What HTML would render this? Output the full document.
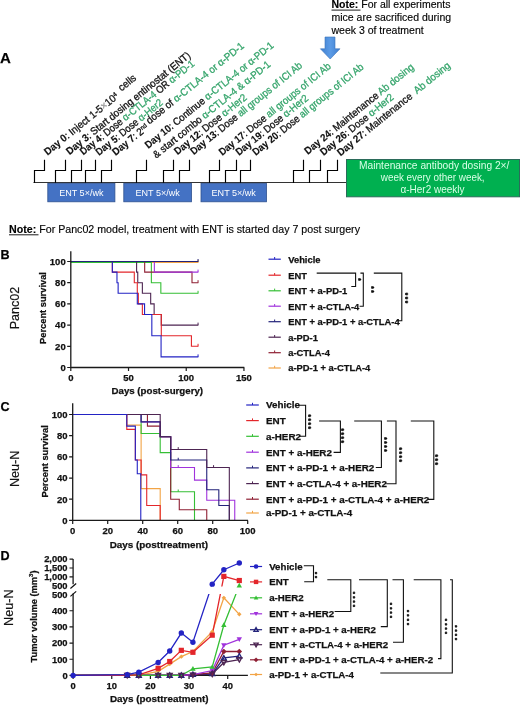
<!DOCTYPE html>
<html><head><meta charset="utf-8"><style>
html,body{margin:0;padding:0;background:#fff;}
svg{display:block;}
text{font-family:"Liberation Sans",Arial,sans-serif;}
text[font-weight="bold"],g[font-weight="bold"] text{stroke:#111;stroke-width:0.25px;}
.rt tspan[font-weight="bold"]{stroke-width:0.15px;}
</style></head><body>
<svg width="520" height="706" viewBox="0 0 520 706">
<rect width="520" height="706" fill="#fff"/>
<text x="0" y="63" font-size="15" font-weight="bold">A</text>
<g font-size="10.5" stroke="#111" stroke-width="0.15">
<text x="331.5" y="8.0"><tspan font-weight="bold">Note:</tspan> For all experiments</text>
<text x="331.5" y="20.8">mice are sacrificed during</text>
<text x="331.5" y="33.6">week 3 of treatment</text>
</g>
<line x1="331.5" y1="10.1" x2="360.5" y2="10.1" stroke="#000" stroke-width="0.9"/>
<defs><linearGradient id="ag" x1="0" x2="1" y1="0" y2="0"><stop offset="0" stop-color="#3f7fcf"/><stop offset="0.5" stop-color="#5b9be6"/><stop offset="1" stop-color="#3f7fcf"/></linearGradient></defs>
<path d="M325,37 H335 V48.8 H340 L330.2,59 L320.4,48.8 H325 Z" fill="url(#ag)" stroke="#3a72b8" stroke-width="0.6"/>
<g class="rt" fill="#111" stroke="#111" stroke-width="0.3">
<text transform="translate(47.4,155.7) rotate(-39)" font-size="10.3" textLength="117.8" lengthAdjust="spacingAndGlyphs" xml:space="preserve"><tspan font-weight="bold">Day 0</tspan>: Inject 1-5<tspan fill="#999" stroke="#999">×</tspan>10<tspan font-size="6.18" dy="-3.2">4</tspan><tspan dy="3.2"></tspan>  cells</text>
<text transform="translate(69.5,155.2) rotate(-39)" font-size="10.3" textLength="156.6" lengthAdjust="spacingAndGlyphs" xml:space="preserve"><tspan font-weight="bold">Day 3</tspan>: Start dosing entinostat (ENT)</text>
<text transform="translate(83.3,155.6) rotate(-39)" font-size="10.3" textLength="144.0" lengthAdjust="spacingAndGlyphs" xml:space="preserve"><tspan font-weight="bold">Day 4</tspan>: Dose <tspan fill="#36a56c" stroke="#36a56c">α-CTLA-4</tspan> OR <tspan fill="#36a56c" stroke="#36a56c">α-PD-1</tspan></text>
<text transform="translate(99.1,156.0) rotate(-39)" font-size="10.3" textLength="83.0" lengthAdjust="spacingAndGlyphs" xml:space="preserve"><tspan font-weight="bold">Day 5</tspan>: Dose <tspan fill="#36a56c" stroke="#36a56c">α-Her2</tspan></text>
<text transform="translate(115.5,156.0) rotate(-39)" font-size="10.3" textLength="169.0" lengthAdjust="spacingAndGlyphs" xml:space="preserve"><tspan font-weight="bold">Day 7</tspan>: 2<tspan font-size="6.18" dy="-3.2">nd</tspan><tspan dy="3.2"></tspan> dose of <tspan fill="#36a56c" stroke="#36a56c">α-CTLA-4 or α-PD-1</tspan></text>
<text transform="translate(148.2,148.9) rotate(-39)" font-size="10.3" textLength="162.4" lengthAdjust="spacingAndGlyphs" xml:space="preserve"><tspan font-weight="bold">Day 10</tspan>: Continue <tspan fill="#36a56c" stroke="#36a56c">α-CTLA-4 or α-PD-1</tspan></text>
<text transform="translate(156.2,158.7) rotate(-39)" font-size="10.3" textLength="148.0" lengthAdjust="spacingAndGlyphs" xml:space="preserve">&amp; start combo <tspan fill="#36a56c" stroke="#36a56c">α-CTLA-4 &amp; α-PD-1</tspan></text>
<text transform="translate(177.6,155.2) rotate(-39)" font-size="10.3" textLength="90.0" lengthAdjust="spacingAndGlyphs" xml:space="preserve"><tspan font-weight="bold">Day 12</tspan>: Dose <tspan fill="#36a56c" stroke="#36a56c">α-Her2</tspan></text>
<text transform="translate(193.7,155.2) rotate(-39)" font-size="10.3" textLength="140.6" lengthAdjust="spacingAndGlyphs" xml:space="preserve"><tspan font-weight="bold">Day 13</tspan>: Dose <tspan fill="#36a56c" stroke="#36a56c">all groups of ICI Ab</tspan></text>
<text transform="translate(222.2,156.1) rotate(-39)" font-size="10.3" textLength="140.8" lengthAdjust="spacingAndGlyphs" xml:space="preserve"><tspan font-weight="bold">Day 17</tspan>: Dose <tspan fill="#36a56c" stroke="#36a56c">all groups of ICI Ab</tspan></text>
<text transform="translate(239.0,156.1) rotate(-39)" font-size="10.3" textLength="90.1" lengthAdjust="spacingAndGlyphs" xml:space="preserve"><tspan font-weight="bold">Day 19</tspan>: Dose <tspan fill="#36a56c" stroke="#36a56c">α-Her2</tspan></text>
<text transform="translate(255.8,156.1) rotate(-39)" font-size="10.3" textLength="139.8" lengthAdjust="spacingAndGlyphs" xml:space="preserve"><tspan font-weight="bold">Day 20</tspan>: Dose <tspan fill="#36a56c" stroke="#36a56c">all groups of ICI Ab</tspan></text>
<text transform="translate(307.7,154.9) rotate(-39)" font-size="10.3" textLength="137.6" lengthAdjust="spacingAndGlyphs" xml:space="preserve"><tspan font-weight="bold">Day 24</tspan>: Maintenance <tspan fill="#36a56c" stroke="#36a56c">Ab dosing</tspan></text>
<text transform="translate(323.5,155.9) rotate(-39)" font-size="10.3" textLength="91.3" lengthAdjust="spacingAndGlyphs" xml:space="preserve"><tspan font-weight="bold">Day 26</tspan>: Dose <tspan fill="#36a56c" stroke="#36a56c">α-Her2</tspan></text>
<text transform="translate(340.4,156.4) rotate(-39)" font-size="10.3" textLength="142.5" lengthAdjust="spacingAndGlyphs" xml:space="preserve"><tspan font-weight="bold">Day 27</tspan>: Maintenance  <tspan fill="#36a56c" stroke="#36a56c">Ab dosing</tspan></text>
</g>
<line x1="33.5" y1="182.5" x2="347" y2="182.5" stroke="#333" stroke-width="1.1"/>
<path d="M34.5,183 V170.5 H44.5 V159.8 M55.5,183 V170.5 H65.5 V159.8 M71.5,183 V170.5 H81.5 V159.8 M85.5,183 V170.5 H95.5 V159.8 M101.5,183 V170.5 H111.5 V159.8 M136.5,183 V170.5 H146.5 V159.8 M163.5,183 V170.5 H173.5 V159.8 M179.5,183 V170.5 H189.5 V159.8 M209.5,183 V170.5 H219.5 V159.8 M225.5,183 V170.5 H236.5 V159.8 M240.5,183 V170.5 H250.5 V159.8 M293.5,183 V170.5 H303.5 V159.8 M309.5,183 V170.5 H320.5 V159.8 M327.5,183 V170.5 H337.5 V159.8 " fill="none" stroke="#000" stroke-width="1.15"/>
<rect x="47.8" y="183.3" width="67.10000000000001" height="18.5" fill="#4472c4" stroke="#2f528f" stroke-width="0.8"/>
<text x="81.35" y="195.8" font-size="9.3" textLength="44.3" lengthAdjust="spacingAndGlyphs" fill="#fff" text-anchor="middle">ENT 5×/wk</text>
<rect x="123.8" y="183.3" width="67.7" height="18.5" fill="#4472c4" stroke="#2f528f" stroke-width="0.8"/>
<text x="157.65" y="195.8" font-size="9.3" textLength="44.3" lengthAdjust="spacingAndGlyphs" fill="#fff" text-anchor="middle">ENT 5×/wk</text>
<rect x="201" y="183.3" width="65.5" height="18.5" fill="#4472c4" stroke="#2f528f" stroke-width="0.8"/>
<text x="233.75" y="195.8" font-size="9.3" textLength="44.3" lengthAdjust="spacingAndGlyphs" fill="#fff" text-anchor="middle">ENT 5×/wk</text>
<rect x="346.5" y="159.5" width="173" height="37.3" fill="#00b050" stroke="#2b6b5a" stroke-width="1"/>
<g font-size="10.3" fill="#d8ffe6" text-anchor="middle">
<text x="434.2" y="168.9" textLength="150.5" lengthAdjust="spacingAndGlyphs">Maintenance antibody dosing 2×/</text>
<text x="432.7" y="181.1" textLength="103.8" lengthAdjust="spacingAndGlyphs">week every other week,</text>
<text x="432.5" y="193.4" textLength="64.1" lengthAdjust="spacingAndGlyphs">α-Her2 weekly</text>
</g>
<text x="9" y="232.5" font-size="10.6" stroke="#111" stroke-width="0.15" textLength="351" lengthAdjust="spacingAndGlyphs"><tspan font-weight="bold">Note:</tspan> For Panc02 model, treatment with ENT is started day 7 post surgery</text>
<line x1="9" y1="234.8" x2="38.5" y2="234.8" stroke="#000" stroke-width="0.9"/>
<text x="0.5" y="258.6" font-size="12.6" font-weight="bold">B</text>
<text transform="translate(19,308) rotate(-90)" font-size="12.6" text-anchor="middle" fill="#111" stroke="#222" stroke-width="0.2">Panc02</text>
<text transform="translate(45.6,308) rotate(-90)" font-size="9.3" font-weight="bold" text-anchor="middle" fill="#111">Percent survival</text>
<path d="M70.80,262.40 H198.35" fill="none" stroke="#f2a446" stroke-width="1.1"/>
<line x1="198.05015" y1="262.4" x2="198.05015" y2="259.9" stroke="#f2a446" stroke-width="1"/>
<path d="M70.80,262.40 H151.37 V282.70 H160.84 V293.30 H198.35" fill="none" stroke="#35bf35" stroke-width="1.1"/>
<line x1="198.05015" y1="293.3" x2="198.05015" y2="290.8" stroke="#35bf35" stroke-width="1"/>
<path d="M70.80,261.50 H144.68 V272.10 H192.00 V282.70 H198.35" fill="none" stroke="#8f1f33" stroke-width="1.1"/>
<line x1="198.05015" y1="282.7" x2="198.05015" y2="280.2" stroke="#8f1f33" stroke-width="1"/>
<path d="M70.80,261.50 H154.37 V272.10 H198.35" fill="none" stroke="#a032dc" stroke-width="1.1"/>
<line x1="198.05015" y1="272.1" x2="198.05015" y2="269.6" stroke="#a032dc" stroke-width="1"/>
<path d="M70.80,261.50 H136.60 V272.10 H137.75 V282.70 H142.37 V293.30 H150.68 V303.90 H154.14 V314.50 H161.30 V325.10 H198.35" fill="none" stroke="#4d2552" stroke-width="1.1"/>
<line x1="198.05015" y1="325.1" x2="198.05015" y2="322.6" stroke="#4d2552" stroke-width="1"/>
<path d="M70.80,261.50 H112.35 V272.10 H134.29 V282.70 H137.29 V293.30 H138.33 V303.90 H142.37 V314.50 H161.30 V335.70 H191.42 V346.30 H198.35" fill="none" stroke="#e3262b" stroke-width="1.1"/>
<line x1="198.05015" y1="346.3" x2="198.05015" y2="343.8" stroke="#e3262b" stroke-width="1"/>
<path d="M70.80,261.50 H112.35 V272.10 H116.97 V282.70 H118.13 V293.30 H137.29 V303.90 H144.56 V314.50 H151.83 V335.70 H161.07 V356.90 H198.35" fill="none" stroke="#2323c4" stroke-width="1.1"/>
<line x1="198.05015" y1="356.9" x2="198.05015" y2="354.4" stroke="#2323c4" stroke-width="1"/>
<path d="M70.80,261.50 H198.35" fill="none" stroke="#23237a" stroke-width="1.1"/>
<line x1="198.05015" y1="261.5" x2="198.05015" y2="259.0" stroke="#23237a" stroke-width="1"/>
<path d="M70.8,251.2 V367.5 H244.3" fill="none" stroke="#1a1a1a" stroke-width="1.3"/>
<path d="M67.2,367.5 H70.8 M67.2,346.3 H70.8 M67.2,325.1 H70.8 M67.2,303.9 H70.8 M67.2,282.7 H70.8 M67.2,261.5 H70.8 M70.8,367.5 V371.1 M128.515,367.5 V371.1 M186.23000000000002,367.5 V371.1 M243.945,367.5 V371.1 " fill="none" stroke="#1a1a1a" stroke-width="1.2"/>
<g font-size="9.5" font-weight="bold" fill="#111">
<text x="65.7" y="370.8" text-anchor="end">0</text>
<text x="65.7" y="349.6" text-anchor="end">20</text>
<text x="65.7" y="328.40000000000003" text-anchor="end">40</text>
<text x="65.7" y="307.2" text-anchor="end">60</text>
<text x="65.7" y="286.0" text-anchor="end">80</text>
<text x="65.7" y="264.8" text-anchor="end">100</text>
<text x="70.8" y="380.6" text-anchor="middle">0</text>
<text x="128.515" y="380.6" text-anchor="middle">50</text>
<text x="186.23000000000002" y="380.6" text-anchor="middle">100</text>
<text x="243.945" y="380.6" text-anchor="middle">150</text>
</g>
<text x="111.5" y="393.8" font-size="9.7" font-weight="bold" fill="#111">Days (post-surgery)</text>
<line x1="268.5" y1="259.2" x2="280.8" y2="259.2" stroke="#2323c4" stroke-width="1.2"/>
<line x1="274.65" y1="259.2" x2="274.65" y2="257.0" stroke="#2323c4" stroke-width="1"/>
<text x="288.2" y="262.5" font-size="9.4" font-weight="bold" fill="#111">Vehicle</text>
<line x1="268.5" y1="275.2" x2="280.8" y2="275.2" stroke="#e3262b" stroke-width="1.2"/>
<line x1="274.65" y1="275.2" x2="274.65" y2="273.0" stroke="#e3262b" stroke-width="1"/>
<text x="288.2" y="278.5" font-size="9.4" font-weight="bold" fill="#111">ENT</text>
<line x1="268.5" y1="290.8" x2="280.8" y2="290.8" stroke="#35bf35" stroke-width="1.2"/>
<line x1="274.65" y1="290.8" x2="274.65" y2="288.6" stroke="#35bf35" stroke-width="1"/>
<text x="288.2" y="294.1" font-size="9.4" font-weight="bold" fill="#111">ENT + a-PD-1</text>
<line x1="268.5" y1="306.2" x2="280.8" y2="306.2" stroke="#a032dc" stroke-width="1.2"/>
<line x1="274.65" y1="306.2" x2="274.65" y2="304.0" stroke="#a032dc" stroke-width="1"/>
<text x="288.2" y="309.5" font-size="9.4" font-weight="bold" fill="#111">ENT + a-CTLA-4</text>
<line x1="268.5" y1="321.7" x2="280.8" y2="321.7" stroke="#23237a" stroke-width="1.2"/>
<line x1="274.65" y1="321.7" x2="274.65" y2="319.5" stroke="#23237a" stroke-width="1"/>
<text x="288.2" y="325.0" font-size="9.4" font-weight="bold" fill="#111">ENT + a-PD-1 + a-CTLA-4</text>
<line x1="268.5" y1="337.2" x2="280.8" y2="337.2" stroke="#4d2552" stroke-width="1.2"/>
<line x1="274.65" y1="337.2" x2="274.65" y2="335.0" stroke="#4d2552" stroke-width="1"/>
<text x="288.2" y="340.5" font-size="9.4" font-weight="bold" fill="#111">a-PD-1</text>
<line x1="268.5" y1="352.7" x2="280.8" y2="352.7" stroke="#8f1f33" stroke-width="1.2"/>
<line x1="274.65" y1="352.7" x2="274.65" y2="350.5" stroke="#8f1f33" stroke-width="1"/>
<text x="288.2" y="356.0" font-size="9.4" font-weight="bold" fill="#111">a-CTLA-4</text>
<line x1="268.5" y1="368.0" x2="280.8" y2="368.0" stroke="#f2a446" stroke-width="1.2"/>
<line x1="274.65" y1="368.0" x2="274.65" y2="365.8" stroke="#f2a446" stroke-width="1"/>
<text x="288.2" y="371.3" font-size="9.4" font-weight="bold" fill="#111">a-PD-1 + a-CTLA-4</text>
<path d="M316.7,273.1 H355.6 V286.5 H351.3" fill="none" stroke="#111" stroke-width="1.1"/>
<text transform="translate(355.75,278.26) rotate(90)" font-size="6.4" font-weight="bold" letter-spacing="1.51" fill="#111" style="stroke:#111;stroke-width:0.45px">*</text>
<path d="M360.4,273.1 H363.3 V306.2 H359.6" fill="none" stroke="#111" stroke-width="1.1"/>
<text transform="translate(368.55,286.36) rotate(90)" font-size="6.4" font-weight="bold" letter-spacing="1.51" fill="#111" style="stroke:#111;stroke-width:0.45px">**</text>
<path d="M373.8,273.1 H401.8 V320.8 H396.5" fill="none" stroke="#111" stroke-width="1.1"/>
<text transform="translate(403.45,292.76) rotate(90)" font-size="6.4" font-weight="bold" letter-spacing="1.51" fill="#111" style="stroke:#111;stroke-width:0.45px">***</text>
<text x="0.5" y="411" font-size="12.6" font-weight="bold">C</text>
<text transform="translate(19.1,468.8) rotate(-90)" font-size="12.6" text-anchor="middle" fill="#111" stroke="#222" stroke-width="0.2">Neu-N</text>
<text transform="translate(47.8,461.4) rotate(-90)" font-size="9.4" font-weight="bold" text-anchor="middle" fill="#111">Percent survival</text>
<path d="M72.70,414.50 H126.78 V425.09 H141.12 V488.63 H160.20 V520.40 " fill="none" stroke="#f2a446" stroke-width="1.1"/>
<path d="M72.70,414.50 H141.12 V433.56 H160.20 V452.62 H170.70 V491.81 H194.50 V520.40 " fill="none" stroke="#35bf35" stroke-width="1.1"/>
<path d="M72.70,414.50 H147.43 V426.15 H160.20 V436.74 H170.70 V499.22 H179.28 V509.81 H206.75 V520.40 " fill="none" stroke="#8f1f33" stroke-width="1.1"/>
<path d="M72.70,414.50 H141.12 V421.91 H160.20 V436.74 H170.70 V467.45 H194.50 V480.16 H206.75 V500.28 H234.75 V520.40 " fill="none" stroke="#a032dc" stroke-width="1.1"/>
<path d="M72.70,414.50 H141.12 V421.91 H160.20 V436.74 H170.70 V460.04 H206.75 V489.69 H218.82 V505.57 H229.32 V520.40 " fill="none" stroke="#23237a" stroke-width="1.1"/>
<path d="M72.70,414.50 H160.20 V436.74 H170.70 V449.45 H206.75 V467.45 H229.32 V520.40 " fill="none" stroke="#4d2552" stroke-width="1.1"/>
<path d="M72.70,414.50 H126.78 V429.33 H135.35 V460.04 H141.12 V474.86 H146.72 V505.57 H160.20 V520.40 " fill="none" stroke="#e3262b" stroke-width="1.1"/>
<path d="M72.70,414.50 H126.78 V426.15 H135.35 V460.04 H137.28 V473.80 H140.78 V520.40 " fill="none" stroke="#2323c4" stroke-width="1.1"/>
<line x1="178.225" y1="449.447" x2="178.225" y2="447.147" stroke="#4d2552" stroke-width="1"/>
<line x1="178.225" y1="460.037" x2="178.225" y2="457.73699999999997" stroke="#23237a" stroke-width="1"/>
<line x1="178.225" y1="467.45" x2="178.225" y2="465.15" stroke="#a032dc" stroke-width="1"/>
<line x1="178.225" y1="491.80699999999996" x2="178.225" y2="489.50699999999995" stroke="#35bf35" stroke-width="1"/>
<line x1="213.575" y1="467.45" x2="213.575" y2="465.15" stroke="#4d2552" stroke-width="1"/>
<path d="M72.7,403.2 V520.4 H248" fill="none" stroke="#1a1a1a" stroke-width="1.3"/>
<path d="M69.10000000000001,520.4 H72.7 M69.10000000000001,499.21999999999997 H72.7 M69.10000000000001,478.03999999999996 H72.7 M69.10000000000001,456.86 H72.7 M69.10000000000001,435.68 H72.7 M69.10000000000001,414.5 H72.7 M72.7,520.4 V524.0 M107.7,520.4 V524.0 M142.7,520.4 V524.0 M177.7,520.4 V524.0 M212.7,520.4 V524.0 M247.7,520.4 V524.0 " fill="none" stroke="#1a1a1a" stroke-width="1.2"/>
<g font-size="9.5" font-weight="bold" fill="#111">
<text x="67.60000000000001" y="523.6999999999999" text-anchor="end">0</text>
<text x="67.60000000000001" y="502.52" text-anchor="end">20</text>
<text x="67.60000000000001" y="481.34" text-anchor="end">40</text>
<text x="67.60000000000001" y="460.16" text-anchor="end">60</text>
<text x="67.60000000000001" y="438.98" text-anchor="end">80</text>
<text x="67.60000000000001" y="417.8" text-anchor="end">100</text>
<text x="72.7" y="533.5" text-anchor="middle">0</text>
<text x="107.7" y="533.5" text-anchor="middle">20</text>
<text x="142.7" y="533.5" text-anchor="middle">40</text>
<text x="177.7" y="533.5" text-anchor="middle">60</text>
<text x="212.7" y="533.5" text-anchor="middle">80</text>
<text x="247.7" y="533.5" text-anchor="middle">100</text>
</g>
<text x="109.7" y="548.1" font-size="9.85" font-weight="bold" fill="#111">Days (posttreatment)</text>
<line x1="246.2" y1="405" x2="258.8" y2="405" stroke="#2323c4" stroke-width="1.2"/>
<line x1="252.5" y1="405" x2="252.5" y2="402.8" stroke="#2323c4" stroke-width="1"/>
<text x="266" y="408.3" font-size="9.85" font-weight="bold" fill="#111">Vehicle</text>
<line x1="246.2" y1="420.6" x2="258.8" y2="420.6" stroke="#e3262b" stroke-width="1.2"/>
<line x1="252.5" y1="420.6" x2="252.5" y2="418.40000000000003" stroke="#e3262b" stroke-width="1"/>
<text x="266" y="423.90000000000003" font-size="9.85" font-weight="bold" fill="#111">ENT</text>
<line x1="246.2" y1="436.3" x2="258.8" y2="436.3" stroke="#35bf35" stroke-width="1.2"/>
<line x1="252.5" y1="436.3" x2="252.5" y2="434.1" stroke="#35bf35" stroke-width="1"/>
<text x="266" y="439.6" font-size="9.85" font-weight="bold" fill="#111">a-HER2</text>
<line x1="246.2" y1="452.2" x2="258.8" y2="452.2" stroke="#a032dc" stroke-width="1.2"/>
<line x1="252.5" y1="452.2" x2="252.5" y2="450.0" stroke="#a032dc" stroke-width="1"/>
<text x="266" y="455.5" font-size="9.85" font-weight="bold" fill="#111">ENT + a-HER2</text>
<line x1="246.2" y1="467.9" x2="258.8" y2="467.9" stroke="#23237a" stroke-width="1.2"/>
<line x1="252.5" y1="467.9" x2="252.5" y2="465.7" stroke="#23237a" stroke-width="1"/>
<text x="266" y="471.2" font-size="9.85" font-weight="bold" fill="#111">ENT + a-PD-1 + a-HER2</text>
<line x1="246.2" y1="483.6" x2="258.8" y2="483.6" stroke="#4d2552" stroke-width="1.2"/>
<line x1="252.5" y1="483.6" x2="252.5" y2="481.40000000000003" stroke="#4d2552" stroke-width="1"/>
<text x="266" y="486.90000000000003" font-size="9.85" font-weight="bold" fill="#111">ENT + a-CTLA-4 + a-HER2</text>
<line x1="246.2" y1="499.2" x2="258.8" y2="499.2" stroke="#8f1f33" stroke-width="1.2"/>
<line x1="252.5" y1="499.2" x2="252.5" y2="497.0" stroke="#8f1f33" stroke-width="1"/>
<text x="266" y="502.5" font-size="9.85" font-weight="bold" fill="#111">ENT + a-PD-1 + a-CTLA-4 + a-HER2</text>
<line x1="246.2" y1="513.0" x2="258.8" y2="513.0" stroke="#f2a446" stroke-width="1.2"/>
<line x1="252.5" y1="513.0" x2="252.5" y2="510.8" stroke="#f2a446" stroke-width="1"/>
<text x="266" y="516.3" font-size="9.85" font-weight="bold" fill="#111">a-PD-1 + a-CTLA-4</text>
<path d="M298.7,405.3 H305.6 V436.2 H300" fill="none" stroke="#111" stroke-width="1.1"/>
<text transform="translate(306.15,414.46) rotate(90)" font-size="6.4" font-weight="bold" letter-spacing="1.51" fill="#111" style="stroke:#111;stroke-width:0.45px">****</text>
<path d="M319.1,421.0 H340.4 V452.4 H333.6" fill="none" stroke="#111" stroke-width="1.1"/>
<text transform="translate(339.45,428.46) rotate(90)" font-size="6.4" font-weight="bold" letter-spacing="1.51" fill="#111" style="stroke:#111;stroke-width:0.45px">****</text>
<path d="M354.2,421.0 H381.4 V467.5 H375.8" fill="none" stroke="#111" stroke-width="1.1"/>
<text transform="translate(382.15,437.36) rotate(90)" font-size="6.4" font-weight="bold" letter-spacing="1.51" fill="#111" style="stroke:#111;stroke-width:0.45px">****</text>
<path d="M386.9,421.0 H396.0 V483.7 H386.3" fill="none" stroke="#111" stroke-width="1.1"/>
<text transform="translate(396.75,447.56) rotate(90)" font-size="6.4" font-weight="bold" letter-spacing="1.51" fill="#111" style="stroke:#111;stroke-width:0.45px">****</text>
<path d="M410.8,421.0 H433.8 V499.4 H428" fill="none" stroke="#111" stroke-width="1.1"/>
<text transform="translate(433.25,454.46) rotate(90)" font-size="6.4" font-weight="bold" letter-spacing="1.51" fill="#111" style="stroke:#111;stroke-width:0.45px">***</text>
<text x="0.5" y="559.8" font-size="12.6" font-weight="bold">D</text>
<text transform="translate(12.8,607.7) rotate(-90)" font-size="12.6" text-anchor="middle" fill="#111" stroke="#222" stroke-width="0.2">Neu-N</text>
<text transform="translate(36.8,616.5) rotate(-90)" font-size="9.3" font-weight="bold" text-anchor="middle" fill="#111">Tumor volume (mm<tspan font-size="6" dy="-3.5">3</tspan><tspan dy="3.5">)</tspan></text>
<path d="M73.1,558.9 V584.3 M73.1,593.5 V675.4 H247.9" fill="none" stroke="#1a1a1a" stroke-width="1.3"/>
<path d="M70.4,588.5 L76.2,583.5 M70.4,596.4 L76.2,591.4" stroke="#111" stroke-width="1.2"/>
<path d="M69.5,559.1 H73.1 M69.5,568.0 H73.1 M69.5,576.8 H73.1 M69.5,610.76 H73.1 M69.5,626.92 H73.1 M69.5,643.0799999999999 H73.1 M69.5,659.24 H73.1 M69.5,675.4 H73.1 M73.1,675.4 V679.0 M111.75,675.4 V679.0 M150.4,675.4 V679.0 M189.05,675.4 V679.0 M227.70000000000002,675.4 V679.0 " fill="none" stroke="#1a1a1a" stroke-width="1.2"/>
<g font-size="9.4" font-weight="bold" fill="#111">
<text x="67.6" y="562.4" text-anchor="end">2,000</text>
<text x="67.6" y="571.3" text-anchor="end">1,500</text>
<text x="67.6" y="580.0999999999999" text-anchor="end">1,000</text>
<text x="67.6" y="588.8" text-anchor="end">500</text>
<text x="67.6" y="597.9" text-anchor="end">500</text>
<text x="67.6" y="614.06" text-anchor="end">400</text>
<text x="67.6" y="630.2199999999999" text-anchor="end">300</text>
<text x="67.6" y="646.3799999999999" text-anchor="end">200</text>
<text x="67.6" y="662.54" text-anchor="end">100</text>
<text x="67.6" y="678.6999999999999" text-anchor="end">0</text>
<text x="73.1" y="688.6" text-anchor="middle">0</text>
<text x="111.75" y="688.6" text-anchor="middle">10</text>
<text x="150.4" y="688.6" text-anchor="middle">20</text>
<text x="189.05" y="688.6" text-anchor="middle">30</text>
<text x="227.70000000000002" y="688.6" text-anchor="middle">40</text>
</g>
<defs><clipPath id="cgap"><rect x="60" y="550" width="200" height="36.6"/><rect x="60" y="594.0" width="200" height="90"/></clipPath></defs>
<g clip-path="url(#cgap)">
<polyline points="73.10,675.40 127.21,675.40 138.81,675.40 158.13,671.36 169.72,664.09 181.32,656.65 192.92,651.48 212.24,631.77 223.84,597.83 239.30,614.32" fill="none" stroke="#f2a446" stroke-width="1.3"/>
<polyline points="73.10,675.40 127.21,675.40 138.81,675.40 158.13,675.40 169.72,675.40 181.32,675.40 192.92,674.92 212.24,674.11 223.84,662.47 239.30,659.56" fill="none" stroke="#4d2552" stroke-width="1.3"/>
<polyline points="73.10,675.40 127.21,675.40 138.81,675.40 158.13,675.40 169.72,675.40 181.32,675.40 192.92,674.59 212.24,673.78 223.84,657.95 239.30,656.17" fill="none" stroke="#23237a" stroke-width="1.3"/>
<polyline points="73.10,675.40 127.21,675.40 138.81,675.40 158.13,675.40 169.72,675.40 181.32,675.40 192.92,674.59 212.24,672.98 223.84,651.48 239.30,651.48" fill="none" stroke="#8f1f33" stroke-width="1.3"/>
<polyline points="73.10,675.40 127.21,675.40 138.81,675.40 158.13,675.40 169.72,675.40 181.32,675.40 192.92,674.59 212.24,670.55 223.84,645.18 239.30,639.36" fill="none" stroke="#a032dc" stroke-width="1.3"/>
<polyline points="73.10,675.40 127.21,675.40 138.81,675.40 158.13,675.40 169.72,675.40 181.32,675.40 192.92,668.77 212.24,666.84 223.84,624.98 239.30,585.41" fill="none" stroke="#35bf35" stroke-width="1.3"/>
<polyline points="73.10,675.40 127.21,675.40 138.81,674.92 158.13,668.29 169.72,661.50 181.32,650.35 192.92,652.29 212.24,635.16 223.84,576.40 239.30,580.51" fill="none" stroke="#e3262b" stroke-width="1.3"/>
<polyline points="73.10,675.40 127.21,674.59 138.81,672.17 158.13,662.47 169.72,651.00 181.32,633.06 192.92,642.27 212.24,584.16 223.84,569.77 239.30,562.98" fill="none" stroke="#2323c4" stroke-width="1.3"/>
</g>
<path d="M127.21,673.20 L129.41,675.40 L127.21,677.60 L125.01,675.40 Z" fill="#f2a446"/>
<path d="M138.81,673.20 L141.00,675.40 L138.81,677.60 L136.61,675.40 Z" fill="#f2a446"/>
<path d="M158.13,669.16 L160.33,671.36 L158.13,673.56 L155.93,671.36 Z" fill="#f2a446"/>
<path d="M169.72,661.89 L171.92,664.09 L169.72,666.29 L167.53,664.09 Z" fill="#f2a446"/>
<path d="M181.32,654.45 L183.52,656.65 L181.32,658.85 L179.12,656.65 Z" fill="#f2a446"/>
<path d="M192.92,649.28 L195.12,651.48 L192.92,653.68 L190.72,651.48 Z" fill="#f2a446"/>
<path d="M212.24,629.57 L214.44,631.77 L212.24,633.97 L210.04,631.77 Z" fill="#f2a446"/>
<path d="M223.84,595.63 L226.03,597.83 L223.84,600.03 L221.64,597.83 Z" fill="#f2a446"/>
<path d="M239.30,612.12 L241.50,614.32 L239.30,616.52 L237.10,614.32 Z" fill="#f2a446"/>
<rect x="124.61" y="672.80" width="5.20" height="5.20" fill="#e3262b"/>
<rect x="136.21" y="672.32" width="5.20" height="5.20" fill="#e3262b"/>
<rect x="155.53" y="665.69" width="5.20" height="5.20" fill="#e3262b"/>
<rect x="167.12" y="658.90" width="5.20" height="5.20" fill="#e3262b"/>
<rect x="178.72" y="647.75" width="5.20" height="5.20" fill="#e3262b"/>
<rect x="190.32" y="649.69" width="5.20" height="5.20" fill="#e3262b"/>
<rect x="209.64" y="632.56" width="5.20" height="5.20" fill="#e3262b"/>
<rect x="221.24" y="573.80" width="5.20" height="5.20" fill="#e3262b"/>
<rect x="236.70" y="577.91" width="5.20" height="5.20" fill="#e3262b"/>
<path d="M127.21,678.10 L129.91,673.38 L124.51,673.38 Z" fill="#a032dc"/>
<path d="M138.81,678.10 L141.50,673.38 L136.11,673.38 Z" fill="#a032dc"/>
<path d="M158.13,678.10 L160.83,673.38 L155.43,673.38 Z" fill="#a032dc"/>
<path d="M169.72,678.10 L172.42,673.38 L167.03,673.38 Z" fill="#a032dc"/>
<path d="M181.32,678.10 L184.02,673.38 L178.62,673.38 Z" fill="#a032dc"/>
<path d="M192.92,677.29 L195.62,672.57 L190.22,672.57 Z" fill="#a032dc"/>
<path d="M212.24,673.25 L214.94,668.53 L209.54,668.53 Z" fill="#a032dc"/>
<path d="M223.84,647.88 L226.53,643.16 L221.14,643.16 Z" fill="#a032dc"/>
<path d="M239.30,642.06 L242.00,637.34 L236.60,637.34 Z" fill="#a032dc"/>
<path d="M127.21,672.60 L130.01,675.40 L127.21,678.20 L124.41,675.40 Z" fill="#8f1f33"/>
<path d="M138.81,672.60 L141.61,675.40 L138.81,678.20 L136.00,675.40 Z" fill="#8f1f33"/>
<path d="M158.13,672.60 L160.93,675.40 L158.13,678.20 L155.33,675.40 Z" fill="#8f1f33"/>
<path d="M169.72,672.60 L172.53,675.40 L169.72,678.20 L166.92,675.40 Z" fill="#8f1f33"/>
<path d="M181.32,672.60 L184.12,675.40 L181.32,678.20 L178.52,675.40 Z" fill="#8f1f33"/>
<path d="M192.92,671.79 L195.72,674.59 L192.92,677.39 L190.12,674.59 Z" fill="#8f1f33"/>
<path d="M212.24,670.18 L215.04,672.98 L212.24,675.78 L209.44,672.98 Z" fill="#8f1f33"/>
<path d="M223.84,648.68 L226.64,651.48 L223.84,654.28 L221.03,651.48 Z" fill="#8f1f33"/>
<path d="M239.30,648.68 L242.10,651.48 L239.30,654.28 L236.50,651.48 Z" fill="#8f1f33"/>
<path d="M127.21,672.70 L129.91,677.42 L124.51,677.42 Z" fill="#35bf35"/>
<path d="M138.81,672.70 L141.50,677.42 L136.11,677.42 Z" fill="#35bf35"/>
<path d="M158.13,672.70 L160.83,677.42 L155.43,677.42 Z" fill="#35bf35"/>
<path d="M169.72,672.70 L172.42,677.42 L167.03,677.42 Z" fill="#35bf35"/>
<path d="M181.32,672.70 L184.02,677.42 L178.62,677.42 Z" fill="#35bf35"/>
<path d="M192.92,666.07 L195.62,670.80 L190.22,670.80 Z" fill="#35bf35"/>
<path d="M212.24,664.14 L214.94,668.86 L209.54,668.86 Z" fill="#35bf35"/>
<path d="M223.84,622.28 L226.53,627.01 L221.14,627.01 Z" fill="#35bf35"/>
<path d="M239.30,582.71 L242.00,587.44 L236.60,587.44 Z" fill="#35bf35"/>
<path d="M127.21,672.90 L129.71,677.27 L124.71,677.27 Z" fill="none" stroke="#23237a" stroke-width="1.3"/>
<path d="M138.81,672.90 L141.31,677.27 L136.31,677.27 Z" fill="none" stroke="#23237a" stroke-width="1.3"/>
<path d="M158.13,672.90 L160.63,677.27 L155.63,677.27 Z" fill="none" stroke="#23237a" stroke-width="1.3"/>
<path d="M169.72,672.90 L172.22,677.27 L167.22,677.27 Z" fill="none" stroke="#23237a" stroke-width="1.3"/>
<path d="M181.32,672.90 L183.82,677.27 L178.82,677.27 Z" fill="none" stroke="#23237a" stroke-width="1.3"/>
<path d="M192.92,672.09 L195.42,676.47 L190.42,676.47 Z" fill="none" stroke="#23237a" stroke-width="1.3"/>
<path d="M212.24,671.28 L214.74,675.66 L209.74,675.66 Z" fill="none" stroke="#23237a" stroke-width="1.3"/>
<path d="M223.84,655.45 L226.34,659.82 L221.34,659.82 Z" fill="none" stroke="#23237a" stroke-width="1.3"/>
<path d="M239.30,653.67 L241.80,658.04 L236.80,658.04 Z" fill="none" stroke="#23237a" stroke-width="1.3"/>
<path d="M127.21,677.90 L129.71,673.52 L124.71,673.52 Z" fill="none" stroke="#4d2552" stroke-width="1.3"/>
<path d="M138.81,677.90 L141.31,673.52 L136.31,673.52 Z" fill="none" stroke="#4d2552" stroke-width="1.3"/>
<path d="M158.13,677.90 L160.63,673.52 L155.63,673.52 Z" fill="none" stroke="#4d2552" stroke-width="1.3"/>
<path d="M169.72,677.90 L172.22,673.52 L167.22,673.52 Z" fill="none" stroke="#4d2552" stroke-width="1.3"/>
<path d="M181.32,677.90 L183.82,673.52 L178.82,673.52 Z" fill="none" stroke="#4d2552" stroke-width="1.3"/>
<path d="M192.92,677.42 L195.42,673.04 L190.42,673.04 Z" fill="none" stroke="#4d2552" stroke-width="1.3"/>
<path d="M212.24,676.61 L214.74,672.23 L209.74,672.23 Z" fill="none" stroke="#4d2552" stroke-width="1.3"/>
<path d="M223.84,664.97 L226.34,660.60 L221.34,660.60 Z" fill="none" stroke="#4d2552" stroke-width="1.3"/>
<path d="M239.30,662.06 L241.80,657.69 L236.80,657.69 Z" fill="none" stroke="#4d2552" stroke-width="1.3"/>
<circle cx="73.10" cy="675.40" r="2.70" fill="#2323c4"/>
<circle cx="127.21" cy="674.59" r="2.70" fill="#2323c4"/>
<circle cx="138.81" cy="672.17" r="2.70" fill="#2323c4"/>
<circle cx="158.13" cy="662.47" r="2.70" fill="#2323c4"/>
<circle cx="169.72" cy="651.00" r="2.70" fill="#2323c4"/>
<circle cx="181.32" cy="633.06" r="2.70" fill="#2323c4"/>
<circle cx="192.92" cy="642.27" r="2.70" fill="#2323c4"/>
<circle cx="212.24" cy="584.16" r="2.70" fill="#2323c4"/>
<circle cx="223.84" cy="569.77" r="2.70" fill="#2323c4"/>
<circle cx="239.30" cy="562.98" r="2.70" fill="#2323c4"/>
<text x="110" y="702" font-size="9.85" font-weight="bold" fill="#111">Days (posttreatment)</text>
<line x1="250" y1="566.5" x2="262.1" y2="566.5" stroke="#2323c4" stroke-width="1.2"/>
<circle cx="256.05" cy="566.50" r="2.29" fill="#2323c4"/>
<text x="269.2" y="569.8" font-size="9.7" font-weight="bold" fill="#111">Vehicle</text>
<line x1="250" y1="581.9" x2="262.1" y2="581.9" stroke="#e3262b" stroke-width="1.2"/>
<rect x="253.84" y="579.69" width="4.42" height="4.42" fill="#e3262b"/>
<text x="269.2" y="585.1999999999999" font-size="9.7" font-weight="bold" fill="#111">ENT</text>
<line x1="250" y1="597.8" x2="262.1" y2="597.8" stroke="#35bf35" stroke-width="1.2"/>
<path d="M256.05,595.50 L258.35,599.52 L253.76,599.52 Z" fill="#35bf35"/>
<text x="269.2" y="601.0999999999999" font-size="9.7" font-weight="bold" fill="#111">a-HER2</text>
<line x1="250" y1="613.8" x2="262.1" y2="613.8" stroke="#a032dc" stroke-width="1.2"/>
<path d="M256.05,616.09 L258.35,612.08 L253.76,612.08 Z" fill="#a032dc"/>
<text x="269.2" y="617.0999999999999" font-size="9.7" font-weight="bold" fill="#111">ENT + a-HER2</text>
<line x1="250" y1="629.7" x2="262.1" y2="629.7" stroke="#23237a" stroke-width="1.2"/>
<path d="M256.05,627.58 L258.18,631.29 L253.93,631.29 Z" fill="none" stroke="#23237a" stroke-width="1.3"/>
<text x="269.2" y="633.0" font-size="9.7" font-weight="bold" fill="#111">ENT + a-PD-1 + a-HER2</text>
<line x1="250" y1="644.7" x2="262.1" y2="644.7" stroke="#4d2552" stroke-width="1.2"/>
<path d="M256.05,646.83 L258.18,643.11 L253.93,643.11 Z" fill="none" stroke="#4d2552" stroke-width="1.3"/>
<text x="269.2" y="648.0" font-size="9.7" font-weight="bold" fill="#111">ENT + a-CTLA-4 + a-HER2</text>
<line x1="250" y1="659.8" x2="262.1" y2="659.8" stroke="#8f1f33" stroke-width="1.2"/>
<path d="M256.05,657.42 L258.43,659.80 L256.05,662.18 L253.67,659.80 Z" fill="#8f1f33"/>
<text x="269.2" y="663.0999999999999" font-size="9.7" font-weight="bold" fill="#111">ENT + a-PD-1 + a-CTLA-4 + a-HER-2</text>
<line x1="250" y1="674.5" x2="262.1" y2="674.5" stroke="#f2a446" stroke-width="1.2"/>
<path d="M256.05,672.63 L257.92,674.50 L256.05,676.37 L254.18,674.50 Z" fill="#f2a446"/>
<text x="269.2" y="677.8" font-size="9.7" font-weight="bold" fill="#111">a-PD-1 + a-CTLA-4</text>
<path d="M303.8,565.8 H313.5 V581.7 H304.2" fill="none" stroke="#111" stroke-width="1.1"/>
<text transform="translate(312.61,572.01) rotate(90)" font-size="5.6" font-weight="bold" letter-spacing="1.82" fill="#111" style="stroke:#111;stroke-width:0.45px">**</text>
<path d="M327.3,579.8 H350.8 V611.5 H334.6" fill="none" stroke="#111" stroke-width="1.1"/>
<text transform="translate(350.61,591.86) rotate(90)" font-size="5.6" font-weight="bold" letter-spacing="2.12" fill="#111" style="stroke:#111;stroke-width:0.45px">****</text>
<path d="M359.0,579.8 H387.3 V626.6 H380.8" fill="none" stroke="#111" stroke-width="1.1"/>
<text transform="translate(388.01,602.86) rotate(90)" font-size="5.6" font-weight="bold" letter-spacing="2.12" fill="#111" style="stroke:#111;stroke-width:0.45px">****</text>
<path d="M392.5,579.8 H403.4 V642.3 H393" fill="none" stroke="#111" stroke-width="1.1"/>
<text transform="translate(404.51,610.06) rotate(90)" font-size="5.6" font-weight="bold" letter-spacing="2.12" fill="#111" style="stroke:#111;stroke-width:0.45px">****</text>
<path d="M413.7,579.8 H440.9 V658.6 H438" fill="none" stroke="#111" stroke-width="1.1"/>
<text transform="translate(442.51,618.86) rotate(90)" font-size="5.6" font-weight="bold" letter-spacing="2.12" fill="#111" style="stroke:#111;stroke-width:0.45px">****</text>
<path d="M450.0,579.8 H452.3 V673.0 H380.3" fill="none" stroke="#111" stroke-width="1.1"/>
<text transform="translate(453.31,625.16) rotate(90)" font-size="5.6" font-weight="bold" letter-spacing="2.12" fill="#111" style="stroke:#111;stroke-width:0.45px">****</text>
</svg>
</body></html>
